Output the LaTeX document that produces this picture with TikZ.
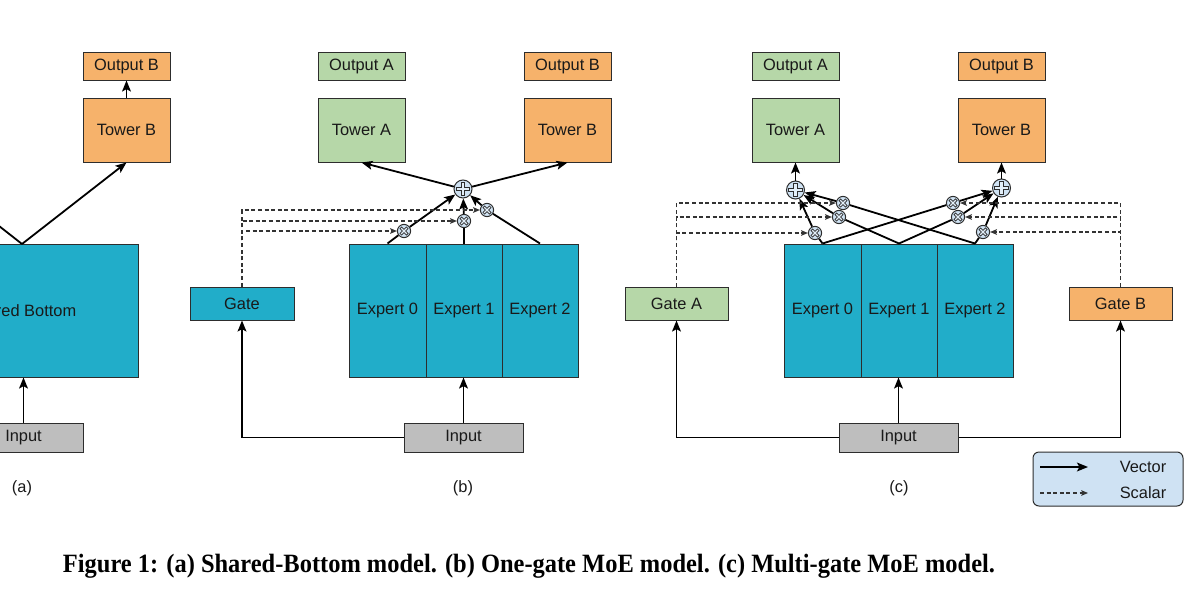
\documentclass[tikz,border=0pt]{standalone}
\usepackage{fontspec}
\usetikzlibrary{arrows.meta,calc}
\setmainfont{Liberation Sans}
\newfontfamily\capfont{Liberation Serif}
\definecolor{teal}{RGB}{33,173,201}
\definecolor{orng}{RGB}{246,178,107}
\definecolor{grn}{RGB}{182,215,168}
\definecolor{gry}{RGB}{190,190,190}
\definecolor{lblue}{RGB}{207,226,243}
\definecolor{edge}{RGB}{45,45,45}
\tikzset{
  bx/.style 2 args={draw=edge, line width=0.5pt, minimum width=#1*0.5pt, minimum height=#2*0.5pt, inner sep=0pt, font=\fontsize{8.2}{9}\selectfont, text=black!90},
  vec/.style={line width=0.9pt, -{Stealth[length=5.5pt,width=4.4pt,inset=1.2pt]}},
  vline/.style={line width=0.9pt},
  sca/.style={line width=0.55pt, draw=black!80, dash pattern=on 2pt off 1.3pt, -{Stealth[length=3.4pt,width=2.8pt,inset=0.7pt]}},
  plusn/.style={circle, draw=edge, fill=lblue, line width=0.5pt, minimum size=9pt, inner sep=0pt,
    path picture={\draw[edge, fill=white!40!lblue, line width=0.45pt, shift={(path picture bounding box.center)}]
      (0.95pt,3.3pt) -- (0.95pt,0.95pt) -- (3.3pt,0.95pt) -- (3.3pt,-0.95pt) -- (0.95pt,-0.95pt) -- (0.95pt,-3.3pt) -- (-0.95pt,-3.3pt) -- (-0.95pt,-0.95pt) -- (-3.3pt,-0.95pt) -- (-3.3pt,0.95pt) -- (-0.95pt,0.95pt) -- (-0.95pt,3.3pt) -- cycle;}},
  multn/.style={circle, draw=edge, fill=lblue, line width=0.5pt, minimum size=6.6pt, inner sep=0pt,
    path picture={\draw[edge, fill=white!40!lblue, line width=0.35pt, shift={(path picture bounding box.center)}]
      (-1.2pt,2.05pt) -- (0pt,0.85pt) -- (1.2pt,2.05pt) -- (2.05pt,1.2pt) -- (0.85pt,0pt) -- (2.05pt,-1.2pt) -- (1.2pt,-2.05pt) -- (0pt,-0.85pt) -- (-1.2pt,-2.05pt) -- (-2.05pt,-1.2pt) -- (-0.85pt,0pt) -- (-2.05pt,1.2pt) -- cycle;}},
  lab/.style={font=\fontsize{8.2}{9}\selectfont, text=black!90},
}
\begin{document}
\begin{tikzpicture}[x=0.5pt,y=-0.5pt]
\clip (0,0) rectangle (1200,600);
\fill[white] (0,0) rectangle (1200,600);
% ---------- (a)
\node[bx={87}{28}, fill=orng] (obA) at (126.5,66) {Output B};
\node[bx={87}{64}, fill=orng] (tbA) at (126.5,130) {Tower B};
\node[bx={233}{133}, fill=teal] (sb) at (21.5,310.5) {Shared Bottom};
\node[bx={119}{29}, fill=gry] (inA) at (23.5,437.5) {Input};
\coordinate (taA) at (-82.5,162);
\draw[vec] (tbA) -- (obA);
\draw[vec] (inA) -- (inA |- sb.south);
\draw[vec] (22,244) -- (tbA.south);
\draw[vline] (22,244) -- (taA);
\node[lab] (la) at (22,488) {(a)};
% ---------- (b)
\node[bx={87}{28}, fill=grn] (oaB) at (361.5,66) {Output A};
\node[bx={87}{64}, fill=grn] (taB) at (361.5,130) {Tower A};
\node[bx={87}{28}, fill=orng] (obB) at (567.5,66) {Output B};
\node[bx={87}{64}, fill=orng] (tbB) at (567.5,130) {Tower B};
\node[bx={77}{133}, fill=teal] (e0B) at (387.5,310.5) {Expert 0};
\node[bx={76}{133}, fill=teal] (e1B) at (464,310.5) {Expert 1};
\node[bx={76}{133}, fill=teal] (e2B) at (540,310.5) {Expert 2};
\node[bx={104}{33}, fill=teal] (gB) at (242,303.5) {Gate};
\node[bx={119}{29}, fill=gry] (inB) at (463.5,437.5) {Input};
\node[plusn] (pB) at (463,189) {};
\node[multn] (m0B) at (404,231) {};
\node[multn] (m1B) at (464,221) {};
\node[multn] (m2B) at (487,210) {};
\draw[vec] (pB) -- (taB.south);
\draw[vec] (pB) -- (tbB.south);
\draw[vline] (e0B.north) -- (m0B); \draw[vec] (m0B) -- (pB);
\draw[vline] (e1B.north) -- (m1B); \draw[vec] (m1B) -- (pB);
\draw[vline] (e2B.north) -- (m2B); \draw[vec] (m2B) -- (pB);
\draw[sca] (gB.north) |- (m2B.west);
\draw[sca] (gB.north) |- (m1B.west);
\draw[sca] (gB.north) |- (m0B.west);
\draw[vec] (inB) -- (inB |- e1B.south);
\draw[vec] (inB.west) -| (gB.south);
\node[lab] (lb) at (463,488) {(b)};
% ---------- (c)
\node[bx={87}{28}, fill=grn] (oaC) at (795.5,66) {Output A};
\node[bx={87}{64}, fill=grn] (taC) at (795.5,130) {Tower A};
\node[bx={87}{28}, fill=orng] (obC) at (1001.5,66) {Output B};
\node[bx={87}{64}, fill=orng] (tbC) at (1001.5,130) {Tower B};
\node[bx={77}{133}, fill=teal] (e0C) at (822.5,310.5) {Expert 0};
\node[bx={76}{133}, fill=teal] (e1C) at (899,310.5) {Expert 1};
\node[bx={76}{133}, fill=teal] (e2C) at (975,310.5) {Expert 2};
\node[bx={103}{33}, fill=grn] (gAC) at (676.5,303.5) {Gate A};
\node[bx={103}{33}, fill=orng] (gBC) at (1120.5,303.5) {Gate B};
\node[bx={119}{29}, fill=gry] (inC) at (898.5,437.5) {Input};
\node[plusn] (pAC) at (795.5,190) {};
\node[plusn] (pBC) at (1001.5,188) {};
\node[multn] (a0) at (815,233) {};
\node[multn] (a1) at (839,217) {};
\node[multn] (a2) at (843,203) {};
\node[multn] (b0) at (953,203) {};
\node[multn] (b1) at (958,217) {};
\node[multn] (b2) at (983,232) {};
\draw[vec] (pAC) -- (taC.south);
\draw[vec] (pBC) -- (tbC.south);
\draw[vline] (e0C.north) -- (a0); \draw[vec] (a0) -- (pAC);
\draw[vline] (e1C.north) -- (a1); \draw[vec] (a1) -- (pAC);
\draw[vline] (e2C.north) -- (a2); \draw[vec] (a2) -- (pAC);
\draw[vline] (e0C.north) -- (b0); \draw[vec] (b0) -- (pBC);
\draw[vline] (e1C.north) -- (b1); \draw[vec] (b1) -- (pBC);
\draw[vline] (e2C.north) -- (b2); \draw[vec] (b2) -- (pBC);
\draw[sca] (gAC.north) |- (a2.west);
\draw[sca] (gAC.north) |- (a1.west);
\draw[sca] (gAC.north) |- (a0.west);
\draw[sca] (gBC.north) |- (b0.east);
\draw[sca] (gBC.north) |- (b1.east);
\draw[sca] (gBC.north) |- (b2.east);
\draw[vec] (inC) -- (inC |- e1C.south);
\draw[vec] (inC.west) -| (gAC.south);
\draw[vec] (inC.east) -| (gBC.south);
\node[lab] (lc) at (899,488) {(c)};
% ---------- legend
\node[draw=edge, line width=0.5pt, fill=lblue, rounded corners=3pt, minimum width=75pt, minimum height=27pt] (lg) at (1108,479) {};
\coordinate (v1) at (1040,467); \coordinate (v2) at (1088,467);
\coordinate (s1) at (1040,493); \coordinate (s2) at (1088,493);
\draw[vec] (v1) -- (v2);
\draw[sca] (s1) -- (s2);
\node[lab] (lv) at (1143,467) {Vector};
\node[lab] (ls) at (1143,493) {Scalar};
% ---------- caption
\node[inner sep=0pt] (cap) at (529,566) {\scalebox{1}[1.08]{\resizebox{466pt}{!}{\capfont\bfseries Figure 1: (a) Shared-Bottom model. (b) One-gate MoE model. (c) Multi-gate MoE model.}}};
\end{tikzpicture}
\end{document}
